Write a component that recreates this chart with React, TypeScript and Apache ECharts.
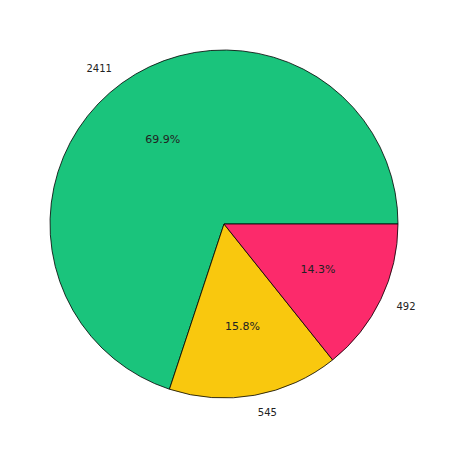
import React, { useEffect, useRef } from 'react';
import * as echarts from 'echarts';

const names = ['A', 'B', 'C'];
const values = [2411, 545, 492];
const colors = ['#1AC47C', '#F9C80E', '#FC2A6B'];

const App: React.FC = () => {
  const chartRef = useRef<HTMLDivElement>(null);

  useEffect(() => {
    if (!chartRef.current) return;
    const chart = echarts.init(chartRef.current, null, { renderer: 'svg' });
    const total = values.reduce((a, b) => a + b, 0);

    const R = 174;
    const center = [224, 224];

    const option: echarts.EChartsOption = {
      animation: false,
      series: [
        {
          // slices + value labels at 1.1R
          type: 'pie',
          radius: [0, R],
          center,
          startAngle: 0,
          clockwise: false,
          silent: true,
          avoidLabelOverlap: false,
          label: {
            show: true,
            position: 'outside',
            distanceToLabelLine: 0,
            fontFamily: 'DejaVu Sans',
            fontSize: 10,
            color: '#222',
            formatter: (p: any) => String(p.value),
          },
          labelLine: { show: false, length: R * 0.1, length2: 0 },
          itemStyle: { borderColor: '#000', borderWidth: 0.8 },
          data: values.map((v, i) => ({ value: v, name: names[i], itemStyle: { color: colors[i] } })),
        },
        {
          // percentage labels at 0.6R (echarts pushes inside labels 3px outward)
          type: 'pie',
          radius: [0, R * 1.2 - 6],
          center,
          startAngle: 0,
          clockwise: false,
          silent: true,
          itemStyle: { color: 'transparent' },
          label: {
            show: true,
            position: 'inside',
            fontFamily: 'DejaVu Sans',
            fontSize: 11,
            color: '#222',
            formatter: (p: any) => ((p.value / total) * 100).toFixed(1) + '%',
          },
          labelLine: { show: false },
          data: values.map((v, i) => ({ value: v, name: names[i] })),
        },
      ],
    };
    chart.setOption(option);
    return () => chart.dispose();
  }, []);

  return (
    <div
      ref={chartRef}
      style={{ position: 'absolute', left: 0, top: 0, width: 449, height: 449, background: '#fff' }}
    />
  );
};

export default App;
